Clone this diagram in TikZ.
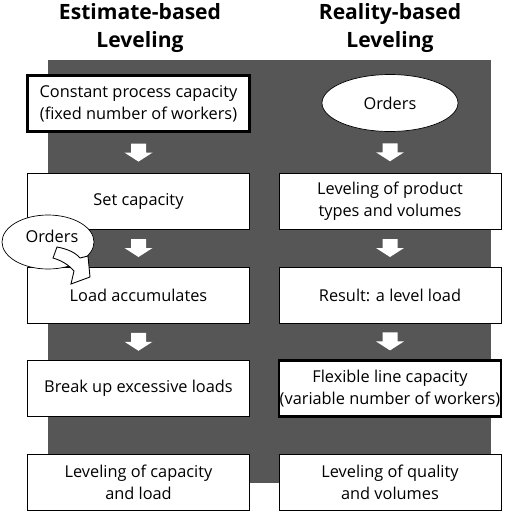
\documentclass[tikz,border=0pt]{standalone}
\usepackage{fontspec}
\setmainfont{Open Sans}
\usetikzlibrary{shapes,arrows,positioning,calc}
\definecolor{panelgray}{HTML}{565656}

\begin{document}
\begin{tikzpicture}[x=0.02cm,y=-0.02cm,
  box/.style={draw,fill=white,minimum width=4.44cm,minimum height=1.12cm,inner sep=0pt,align=center,font=\fontsize{9.3}{12.5}\selectfont},
  thickbox/.style={box,line width=1.2pt},
  orders/.style={ellipse,draw,fill=white,inner sep=0pt,font=\fontsize{9.3}{12.5}\selectfont},
  title/.style={font=\fontsize{12}{15.4}\selectfont\bfseries,align=center}]
\useasboundingbox (0,0) rectangle (513,518);
\fill[panelgray] (48,60) rectangle (491,483);
\node[title] (tl) at (140,28) {Estimate-based\\Leveling};
\node[title] (tr) at (390,28) {Reality-based\\Leveling};
\node[thickbox] (cap) at (138.5,103.5) {Constant process capacity\\(fixed number of workers)};
\node[box] (set) at (138.5,201) {Set capacity};
\node[box] (load) at (138.5,295) {Load accumulates};
\node[box] (brk) at (138.5,388.5) {Break up excessive loads};
\node[box] (lcl) at (138.5,482.5) {Leveling of capacity\\and load};
\node[orders,minimum width=2.72cm,minimum height=1.14cm] (ordR) at (390,103) {Orders};
\node[box] (typ) at (390,201) {Leveling of product\\types and volumes};
\node[box] (res) at (390,295) {Result: a level load};
\node[thickbox] (flx) at (390,388.5) {Flexible line capacity\\(variable number of workers)};
\node[box] (lqv) at (390,482.5) {Leveling of quality\\and volumes};
\foreach \a/\b in {cap/set,set/load,load/brk,ordR/typ,typ/res,res/flx} {
  \coordinate (m) at ($(\a.south)!0.5!(\b.north)$);
  \fill[white] ($(m)+(-7.5,-9)$) -- ($(m)+(7.5,-9)$) -- ($(m)+(7.5,0)$) -- ($(m)+(14,0)$)
    -- ($(m)+(0,9)$) -- ($(m)+(-14,0)$) -- ($(m)+(-7.5,0)$) -- cycle;
}
\node[orders,minimum width=1.84cm,minimum height=1.08cm] (ordL) at (48,242) {\hspace{0.16cm}\raisebox{0.24cm}{Orders}};
\filldraw[fill=white,line width=0.5pt] (57,247) .. controls (68,249) and (76,253) .. (80,258)
  -- (88,256) -- (90,277) -- (71,284) -- (74,271) .. controls (68,264) and (60,260) .. (53,258) -- cycle;
\end{tikzpicture}
\end{document}
